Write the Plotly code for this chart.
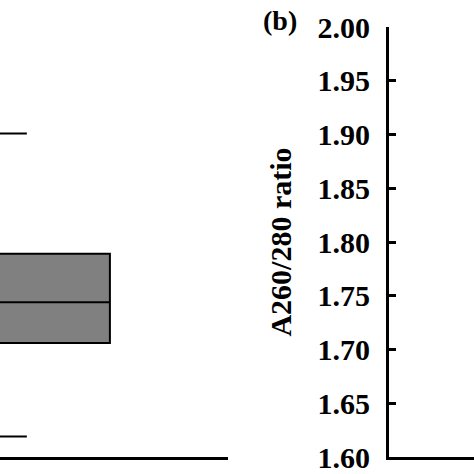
import plotly.graph_objects as go

# ---- data ----
groups = ["a"]
upper_whisker = [1.901]
q3_values = [1.789]
median_values = [1.744]
q1_values = [1.706]
lower_whisker = [1.619]

y_ticks = [1.60, 1.65, 1.70, 1.75, 1.80, 1.85, 1.90, 1.95, 2.00]
y_title = "A260/280 ratio"
panel_label = "(b)"

# ---- layout constants ----
W = H = 474
box_center = -0.06
box_width = 1.084
whisker_rel = 0.328
serif = "Liberation Serif, Times New Roman, serif"

fig = go.Figure()

fig.add_trace(go.Box(
    x=[box_center], q1=q1_values, median=median_values, q3=q3_values,
    lowerfence=lower_whisker, upperfence=upper_whisker,
    width=box_width, whiskerwidth=whisker_rel,
    fillcolor="#808080", line=dict(color="black", width=2),
    xaxis="x", yaxis="y", showlegend=False, boxpoints=False, name=groups[0],
))

# empty trace to create right panel
fig.add_trace(go.Scatter(x=[], y=[], xaxis="x2", yaxis="y2", showlegend=False))

ydom = [(H - 457) / H, (H - 27) / H]

fig.update_layout(
    width=W, height=H,
    margin=dict(l=0, r=0, t=0, b=0, pad=0),
    paper_bgcolor="white", plot_bgcolor="white",
    xaxis=dict(domain=[0, 228 / W], range=[0, 1], showline=True, linecolor="black",
               linewidth=3, showticklabels=False, ticks="", showgrid=False,
               zeroline=False, automargin=False),
    yaxis=dict(domain=ydom, range=[1.60, 2.00], visible=False, anchor="x",
               automargin=False),
    xaxis2=dict(domain=[389 / W, 1], range=[0, 1], showline=True, linecolor="black",
                linewidth=3, showticklabels=False, ticks="", showgrid=False,
                zeroline=False, anchor="y2", automargin=False),
    yaxis2=dict(domain=ydom, range=[1.60, 2.00], anchor="x2", showline=True,
                linecolor="black", linewidth=3, ticks="inside", ticklen=7, tickwidth=3,
                tickcolor="black", tickvals=y_ticks, tickformat=".2f",
                ticklabelstandoff=10, automargin=False,
                tickfont=dict(family=serif, size=30, color="black", weight="bold"),
                showgrid=False, zeroline=False,
                title=dict(text=y_title, standoff=18,
                           font=dict(family=serif, size=30, color="black", weight="bold"))),
    annotations=[dict(text="<b>" + panel_label + "</b>", xref="paper", yref="paper",
                      x=280 / W, y=(H - 20) / H, xanchor="center", yanchor="middle",
                      showarrow=False, font=dict(family=serif, size=28, color="black"))],
)

fig.write_html("out.html", config={"displayModeBar": False},
               post_script="document.body.style.margin='0px';")
